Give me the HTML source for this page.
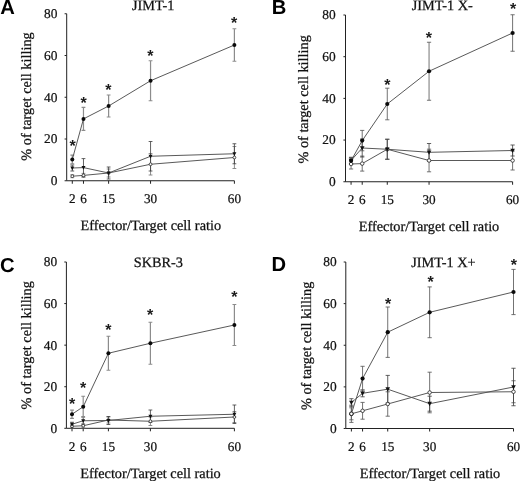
<!DOCTYPE html>
<html><head><meta charset="utf-8"><title>Figure</title>
<style>
html,body{margin:0;padding:0;background:#fff;}
svg{display:block;}
text{text-rendering:geometricPrecision;font-family:"Liberation Serif",serif;font-size:14.3px;fill:#111;stroke:#111;stroke-width:0.25px;}
.pl{font-family:"Liberation Sans",sans-serif;font-weight:bold;font-size:20.2px;fill:#000;stroke:none;}
.xt{font-size:13.2px;stroke-width:0.22px;}
.yt{font-size:13.4px;stroke-width:0.22px;}
.st{font-family:"Liberation Sans",sans-serif;font-weight:bold;font-size:16px;stroke:none;fill:#1a1a1a;}
</style></head><body>
<svg width="520" height="481" viewBox="0 0 520 481">
<rect width="520" height="481" fill="#fff"/>
<g>
<path d="M66.7 13.75V180.75H234.4" fill="none" stroke="#222" stroke-width="1"/>
<text class="yt" x="57.4" y="185.1" text-anchor="end">0</text>
<text class="yt" x="57.4" y="143.35" text-anchor="end">20</text>
<text class="yt" x="57.4" y="101.6" text-anchor="end">40</text>
<text class="yt" x="57.4" y="59.85" text-anchor="end">60</text>
<text class="yt" x="57.4" y="18.1" text-anchor="end">80</text>
<path d="M64.6 180.75H66.7M64.6 139H66.7M64.6 97.25H66.7M64.6 55.5H66.7M64.6 13.75H66.7M72.29 180.75V183.75M83.47 180.75V183.75M108.62 180.75V183.75M150.55 180.75V183.75M234.4 180.75V183.75" stroke="#222" stroke-width="1" fill="none"/>
<text class="xt" x="72.29" y="202.5" text-anchor="middle">2</text>
<text class="xt" x="83.47" y="202.5" text-anchor="middle">6</text>
<text class="xt" x="108.62" y="202.5" text-anchor="middle">15</text>
<text class="xt" x="150.55" y="202.5" text-anchor="middle">30</text>
<text class="xt" x="234.4" y="202.5" text-anchor="middle">60</text>
<path d="M72.29 174.7V177.7M70.39 174.7H74.19M70.39 177.7H74.19M83.47 173.4V177.4M81.57 173.4H85.37M81.57 177.4H85.37M108.62 169V177M106.72 169H110.53M106.72 177H110.53M150.55 153.5V175M148.65 153.5H152.45M148.65 175H152.45M234.4 146.5V168.5M232.5 146.5H236.3M232.5 168.5H236.3" stroke="#808080" stroke-width="0.9" fill="none"/>
<path d="M72.29 165V171M70.39 165H74.19M70.39 171H74.19M83.47 158.6V176.6M81.57 158.6H85.37M81.57 176.6H85.37M108.62 167V179M106.72 167H110.53M106.72 179H110.53M150.55 141.5V171M148.65 141.5H152.45M148.65 171H152.45M234.4 143.75V163.75M232.5 143.75H236.3M232.5 163.75H236.3" stroke="#3a3a3a" stroke-width="0.8" fill="none"/>
<path d="M72.29 155.1V163.9M70.39 155.1H74.19M70.39 163.9H74.19M83.47 107.4V130.4M81.57 107.4H85.37M81.57 130.4H85.37M108.62 95V117M106.72 95H110.53M106.72 117H110.53M150.55 60.75V100.75M148.65 60.75H152.45M148.65 100.75H152.45M234.4 28.75V61.25M232.5 28.75H236.3M232.5 61.25H236.3" stroke="#8c8c8c" stroke-width="1.2" fill="none"/>
<polyline points="72.29,176.2 83.47,175.4 108.62,173 150.55,164.25 234.4,157.5" fill="none" stroke="#505050" stroke-width="0.95"/>
<polyline points="72.29,168 83.47,167.6 108.62,173 150.55,156.25 234.4,153.75" fill="none" stroke="#505050" stroke-width="0.95"/>
<polyline points="72.29,159.5 83.47,118.9 108.62,106 150.55,80.75 234.4,45" fill="none" stroke="#505050" stroke-width="0.95"/>
<circle cx="72.29" cy="176.2" r="1.4" fill="#fff" stroke="#222" stroke-width="0.8"/>
<circle cx="83.47" cy="175.4" r="1.4" fill="#fff" stroke="#222" stroke-width="0.8"/>
<circle cx="108.62" cy="173" r="1.4" fill="#fff" stroke="#222" stroke-width="0.8"/>
<circle cx="150.55" cy="164.25" r="1.4" fill="#fff" stroke="#222" stroke-width="0.8"/>
<circle cx="234.4" cy="157.5" r="1.4" fill="#fff" stroke="#222" stroke-width="0.8"/>
<path d="M70.29 166.4H74.29L72.29 170.2Z" fill="#111"/>
<path d="M81.47 166H85.47L83.47 169.8Z" fill="#111"/>
<path d="M106.62 171.4H110.62L108.62 175.2Z" fill="#111"/>
<path d="M148.55 154.65H152.55L150.55 158.45Z" fill="#111"/>
<path d="M232.4 152.15H236.4L234.4 155.95Z" fill="#111"/>
<circle cx="72.29" cy="159.5" r="2.0" fill="#0a0a0a"/>
<circle cx="83.47" cy="118.9" r="2.0" fill="#0a0a0a"/>
<circle cx="108.62" cy="106" r="2.0" fill="#0a0a0a"/>
<circle cx="150.55" cy="80.75" r="2.0" fill="#0a0a0a"/>
<circle cx="234.4" cy="45" r="2.0" fill="#0a0a0a"/>
<text class="st" x="72.5" y="151.3" text-anchor="middle">*</text>
<text class="st" x="83.5" y="107.6" text-anchor="middle">*</text>
<text class="st" x="108.4" y="94.8" text-anchor="middle">*</text>
<text class="st" x="150.4" y="61.2" text-anchor="middle">*</text>
<text class="st" x="234.2" y="27.8" text-anchor="middle">*</text>
<text x="132" y="9.5">JIMT-1</text>
<text class="pl" x="0.2" y="14.3">A</text>
<text transform="translate(30.9 96.5) rotate(-90)" text-anchor="middle">% of target cell killing</text>
<text x="80.5" y="229.5">Effector/Target cell ratio</text>
</g>
<g>
<path d="M345.5 15V181.75H512.6" fill="none" stroke="#222" stroke-width="1"/>
<text class="yt" x="335.7" y="186.1" text-anchor="end">0</text>
<text class="yt" x="335.7" y="144.41" text-anchor="end">20</text>
<text class="yt" x="335.7" y="102.72" text-anchor="end">40</text>
<text class="yt" x="335.7" y="61.04" text-anchor="end">60</text>
<text class="yt" x="335.7" y="19.35" text-anchor="end">80</text>
<path d="M343.4 181.75H345.5M343.4 140.06H345.5M343.4 98.38H345.5M343.4 56.69H345.5M343.4 15H345.5M351.07 181.75V184.75M362.21 181.75V184.75M387.27 181.75V184.75M429.05 181.75V184.75M512.6 181.75V184.75" stroke="#222" stroke-width="1" fill="none"/>
<text class="xt" x="351.07" y="203.5" text-anchor="middle">2</text>
<text class="xt" x="362.21" y="203.5" text-anchor="middle">6</text>
<text class="xt" x="387.27" y="203.5" text-anchor="middle">15</text>
<text class="xt" x="429.05" y="203.5" text-anchor="middle">30</text>
<text class="xt" x="512.6" y="203.5" text-anchor="middle">60</text>
<path d="M351.07 159V169M348.97 159H353.17M348.97 169H353.17M362.21 156.1V171.1M360.11 156.1H364.31M360.11 171.1H364.31M387.27 139.25V159.25M385.17 139.25H389.38M385.17 159.25H389.38M429.05 149.2V171.8M426.95 149.2H431.15M426.95 171.8H431.15M512.6 151V170M510.5 151H514.7M510.5 170H514.7" stroke="#5a5a5a" stroke-width="0.85" fill="none"/>
<path d="M351.07 157.5V163.5M348.97 157.5H353.17M348.97 163.5H353.17M362.21 139V157M360.11 139H364.31M360.11 157H364.31M387.27 139.25V159.25M385.17 139.25H389.38M385.17 159.25H389.38M429.05 143.5V161.1M426.95 143.5H431.15M426.95 161.1H431.15M512.6 145V156M510.5 145H514.7M510.5 156H514.7" stroke="#444" stroke-width="0.85" fill="none"/>
<path d="M351.07 157.25V164.25M348.97 157.25H353.17M348.97 164.25H353.17M362.21 130.4V150.8M360.11 130.4H364.31M360.11 150.8H364.31M387.27 88.2V119.8M385.17 88.2H389.38M385.17 119.8H389.38M429.05 42.25V100.25M426.95 42.25H431.15M426.95 100.25H431.15M512.6 14.75V51.25M510.5 14.75H514.7M510.5 51.25H514.7" stroke="#5a5a5a" stroke-width="0.85" fill="none"/>
<polyline points="351.07,164 362.21,163.6 387.27,149.25 429.05,160.5 512.6,160.5" fill="none" stroke="#505050" stroke-width="0.95"/>
<polyline points="351.07,160.5 362.21,148 387.27,149.25 429.05,152.3 512.6,150.5" fill="none" stroke="#505050" stroke-width="0.95"/>
<polyline points="351.07,160.75 362.21,140.6 387.27,104 429.05,71.25 512.6,33" fill="none" stroke="#505050" stroke-width="0.95"/>
<circle cx="351.07" cy="164" r="1.75" fill="#fff" stroke="#222" stroke-width="0.8"/>
<circle cx="362.21" cy="163.6" r="1.75" fill="#fff" stroke="#222" stroke-width="0.8"/>
<circle cx="387.27" cy="149.25" r="1.75" fill="#fff" stroke="#222" stroke-width="0.8"/>
<circle cx="429.05" cy="160.5" r="1.75" fill="#fff" stroke="#222" stroke-width="0.8"/>
<circle cx="512.6" cy="160.5" r="1.75" fill="#fff" stroke="#222" stroke-width="0.8"/>
<path d="M348.77 158.66H353.37L351.07 163.03Z" fill="#111"/>
<path d="M359.91 146.16H364.51L362.21 150.53Z" fill="#111"/>
<path d="M384.97 147.41H389.57L387.27 151.78Z" fill="#111"/>
<path d="M426.75 150.46H431.35L429.05 154.83Z" fill="#111"/>
<path d="M510.3 148.66H514.9L512.6 153.03Z" fill="#111"/>
<circle cx="351.07" cy="160.75" r="2.1" fill="#0a0a0a"/>
<circle cx="362.21" cy="140.6" r="2.1" fill="#0a0a0a"/>
<circle cx="387.27" cy="104" r="2.1" fill="#0a0a0a"/>
<circle cx="429.05" cy="71.25" r="2.1" fill="#0a0a0a"/>
<circle cx="512.6" cy="33" r="2.1" fill="#0a0a0a"/>
<text class="st" x="387.3" y="89.8" text-anchor="middle">*</text>
<text class="st" x="428.8" y="42.8" text-anchor="middle">*</text>
<text class="st" x="513.2" y="14.4" text-anchor="middle">*</text>
<text x="411.8" y="9.7">JIMT-1 X-</text>
<text class="pl" x="271.8" y="14.4">B</text>
<text transform="translate(308.4 99.4) rotate(-90)" text-anchor="middle">% of target cell killing</text>
<text x="358.7" y="231.1">Effector/Target cell ratio</text>
</g>
<g>
<path d="M66.4 262V428.3H234.4" fill="none" stroke="#222" stroke-width="1"/>
<text class="yt" x="57.1" y="432.65" text-anchor="end">0</text>
<text class="yt" x="57.1" y="391.08" text-anchor="end">20</text>
<text class="yt" x="57.1" y="349.5" text-anchor="end">40</text>
<text class="yt" x="57.1" y="307.93" text-anchor="end">60</text>
<text class="yt" x="57.1" y="266.35" text-anchor="end">80</text>
<path d="M64.3 428.3H66.4M64.3 386.73H66.4M64.3 345.15H66.4M64.3 303.57H66.4M64.3 262H66.4M72 428.3V431.3M83.2 428.3V431.3M108.4 428.3V431.3M150.4 428.3V431.3M234.4 428.3V431.3" stroke="#222" stroke-width="1" fill="none"/>
<text class="xt" x="72" y="451" text-anchor="middle">2</text>
<text class="xt" x="83.2" y="451" text-anchor="middle">6</text>
<text class="xt" x="108.4" y="451" text-anchor="middle">15</text>
<text class="xt" x="150.4" y="451" text-anchor="middle">30</text>
<text class="xt" x="234.4" y="451" text-anchor="middle">60</text>
<path d="M72 424.75V427.75M70.1 424.75H73.9M70.1 427.75H73.9M83.2 423.75V427.75M81.3 423.75H85.1M81.3 427.75H85.1M108.4 417V423M106.5 417H110.3M106.5 423H110.3M150.4 417V425.5M148.5 417H152.3M148.5 425.5H152.3M234.4 411.5V422.5M232.5 411.5H236.3M232.5 422.5H236.3" stroke="#808080" stroke-width="0.9" fill="none"/>
<path d="M72 422.25V426.25M70.1 422.25H73.9M70.1 426.25H73.9M83.2 416.75V424.75M81.3 416.75H85.1M81.3 424.75H85.1M108.4 416.5V424.5M106.5 416.5H110.3M106.5 424.5H110.3M150.4 410V422.5M148.5 410H152.3M148.5 422.5H152.3M234.4 405V423.5M232.5 405H236.3M232.5 423.5H236.3" stroke="#3a3a3a" stroke-width="0.8" fill="none"/>
<path d="M72 410.05V418.45M70.1 410.05H73.9M70.1 418.45H73.9M83.2 396.25V417.25M81.3 396.25H85.1M81.3 417.25H85.1M108.4 336.25V370.25M106.5 336.25H110.3M106.5 370.25H110.3M150.4 322.25V364.25M148.5 322.25H152.3M148.5 364.25H152.3M234.4 304.5V345.5M232.5 304.5H236.3M232.5 345.5H236.3" stroke="#8c8c8c" stroke-width="1.2" fill="none"/>
<polyline points="72,426.25 83.2,425.75 108.4,420 150.4,421.25 234.4,417" fill="none" stroke="#505050" stroke-width="0.95"/>
<polyline points="72,424.25 83.2,420.75 108.4,420.5 150.4,416.25 234.4,414.25" fill="none" stroke="#505050" stroke-width="0.95"/>
<polyline points="72,414.25 83.2,406.75 108.4,353.25 150.4,343.25 234.4,325" fill="none" stroke="#505050" stroke-width="0.95"/>
<circle cx="72" cy="426.25" r="1.4" fill="#fff" stroke="#222" stroke-width="0.8"/>
<circle cx="83.2" cy="425.75" r="1.4" fill="#fff" stroke="#222" stroke-width="0.8"/>
<circle cx="108.4" cy="420" r="1.4" fill="#fff" stroke="#222" stroke-width="0.8"/>
<circle cx="150.4" cy="421.25" r="1.4" fill="#fff" stroke="#222" stroke-width="0.8"/>
<circle cx="234.4" cy="417" r="1.4" fill="#fff" stroke="#222" stroke-width="0.8"/>
<path d="M70 422.65H74L72 426.45Z" fill="#111"/>
<path d="M81.2 419.15H85.2L83.2 422.95Z" fill="#111"/>
<path d="M106.4 418.9H110.4L108.4 422.7Z" fill="#111"/>
<path d="M148.4 414.65H152.4L150.4 418.45Z" fill="#111"/>
<path d="M232.4 412.65H236.4L234.4 416.45Z" fill="#111"/>
<circle cx="72" cy="414.25" r="2.0" fill="#0a0a0a"/>
<circle cx="83.2" cy="406.75" r="2.0" fill="#0a0a0a"/>
<circle cx="108.4" cy="353.25" r="2.0" fill="#0a0a0a"/>
<circle cx="150.4" cy="343.25" r="2.0" fill="#0a0a0a"/>
<circle cx="234.4" cy="325" r="2.0" fill="#0a0a0a"/>
<text class="st" x="72.2" y="408.5" text-anchor="middle">*</text>
<text class="st" x="83.2" y="393.3" text-anchor="middle">*</text>
<text class="st" x="108.25" y="334.8" text-anchor="middle">*</text>
<text class="st" x="150.1" y="320" text-anchor="middle">*</text>
<text class="st" x="234.4" y="302.3" text-anchor="middle">*</text>
<text x="133.75" y="266.75">SKBR-3</text>
<text class="pl" x="0" y="271.6">C</text>
<text transform="translate(30.5 345.3) rotate(-90)" text-anchor="middle">% of target cell killing</text>
<text x="80.2" y="478.3">Effector/Target cell ratio</text>
</g>
<g>
<path d="M345.8 262V428.5H513.5" fill="none" stroke="#222" stroke-width="1"/>
<text class="yt" x="336.7" y="432.85" text-anchor="end">0</text>
<text class="yt" x="336.7" y="391.23" text-anchor="end">20</text>
<text class="yt" x="336.7" y="349.6" text-anchor="end">40</text>
<text class="yt" x="336.7" y="307.98" text-anchor="end">60</text>
<text class="yt" x="336.7" y="266.35" text-anchor="end">80</text>
<path d="M343.7 428.5H345.8M343.7 386.88H345.8M343.7 345.25H345.8M343.7 303.62H345.8M343.7 262H345.8M351.39 428.5V431.5M362.57 428.5V431.5M387.73 428.5V431.5M429.65 428.5V431.5M513.5 428.5V431.5" stroke="#222" stroke-width="1" fill="none"/>
<text class="xt" x="351.39" y="451.1" text-anchor="middle">2</text>
<text class="xt" x="362.57" y="451.1" text-anchor="middle">6</text>
<text class="xt" x="387.73" y="451.1" text-anchor="middle">15</text>
<text class="xt" x="429.65" y="451.1" text-anchor="middle">30</text>
<text class="xt" x="513.5" y="451.1" text-anchor="middle">60</text>
<path d="M351.39 405.2V422.4M349.29 405.2H353.49M349.29 422.4H353.49M362.57 402.4V419.2M360.47 402.4H364.67M360.47 419.2H364.67M387.73 391.8V416.2M385.62 391.8H389.83M385.62 416.2H389.83M429.65 372.2V412.8M427.55 372.2H431.75M427.55 412.8H431.75M513.5 380.75V402.75M511.4 380.75H515.6M511.4 402.75H515.6" stroke="#5a5a5a" stroke-width="0.85" fill="none"/>
<path d="M351.39 398.7V406.3M349.29 398.7H353.49M349.29 406.3H353.49M362.57 389.8V396.8M360.47 389.8H364.67M360.47 396.8H364.67M387.73 375.4V403M385.62 375.4H389.83M385.62 403H389.83M429.65 396.2V411.2M427.55 396.2H431.75M427.55 411.2H431.75M513.5 368.25V405.75M511.4 368.25H515.6M511.4 405.75H515.6" stroke="#444" stroke-width="0.85" fill="none"/>
<path d="M351.39 407.8V419.8M349.29 407.8H353.49M349.29 419.8H353.49M362.57 366.3V390.9M360.47 366.3H364.67M360.47 390.9H364.67M387.73 307V357.4M385.62 307H389.83M385.62 357.4H389.83M429.65 286.9V337.7M427.55 286.9H431.75M427.55 337.7H431.75M513.5 269.4V314.6M511.4 269.4H515.6M511.4 314.6H515.6" stroke="#5a5a5a" stroke-width="0.85" fill="none"/>
<polyline points="351.39,413.8 362.57,410.8 387.73,404 429.65,392.5 513.5,391.75" fill="none" stroke="#505050" stroke-width="0.95"/>
<polyline points="351.39,402.5 362.57,393.3 387.73,389.2 429.65,403.7 513.5,387" fill="none" stroke="#505050" stroke-width="0.95"/>
<polyline points="351.39,413.8 362.57,378.6 387.73,332.2 429.65,312.3 513.5,292" fill="none" stroke="#505050" stroke-width="0.95"/>
<circle cx="351.39" cy="413.8" r="1.75" fill="#fff" stroke="#222" stroke-width="0.8"/>
<circle cx="362.57" cy="410.8" r="1.75" fill="#fff" stroke="#222" stroke-width="0.8"/>
<circle cx="387.73" cy="404" r="1.75" fill="#fff" stroke="#222" stroke-width="0.8"/>
<circle cx="429.65" cy="392.5" r="1.75" fill="#fff" stroke="#222" stroke-width="0.8"/>
<circle cx="513.5" cy="391.75" r="1.75" fill="#fff" stroke="#222" stroke-width="0.8"/>
<path d="M349.09 400.66H353.69L351.39 405.03Z" fill="#111"/>
<path d="M360.27 391.46H364.87L362.57 395.83Z" fill="#111"/>
<path d="M385.43 387.36H390.03L387.73 391.73Z" fill="#111"/>
<path d="M427.35 401.86H431.95L429.65 406.23Z" fill="#111"/>
<path d="M511.2 385.16H515.8L513.5 389.53Z" fill="#111"/>
<circle cx="351.39" cy="413.8" r="2.1" fill="#0a0a0a"/>
<circle cx="362.57" cy="378.6" r="2.1" fill="#0a0a0a"/>
<circle cx="387.73" cy="332.2" r="2.1" fill="#0a0a0a"/>
<circle cx="429.65" cy="312.3" r="2.1" fill="#0a0a0a"/>
<circle cx="513.5" cy="292" r="2.1" fill="#0a0a0a"/>
<circle cx="351.39" cy="413.8" r="1.75" fill="#fff" stroke="#222" stroke-width="0.8"/>
<text class="st" x="388.2" y="308.6" text-anchor="middle">*</text>
<text class="st" x="430.6" y="287.3" text-anchor="middle">*</text>
<text class="st" x="513.9" y="269.6" text-anchor="middle">*</text>
<text x="411.25" y="266.75">JIMT-1 X+</text>
<text class="pl" x="271.4" y="270.9">D</text>
<text transform="translate(311 345.9) rotate(-90)" text-anchor="middle">% of target cell killing</text>
<text x="359.7" y="478.3">Effector/Target cell ratio</text>
</g>
</svg></body></html>
